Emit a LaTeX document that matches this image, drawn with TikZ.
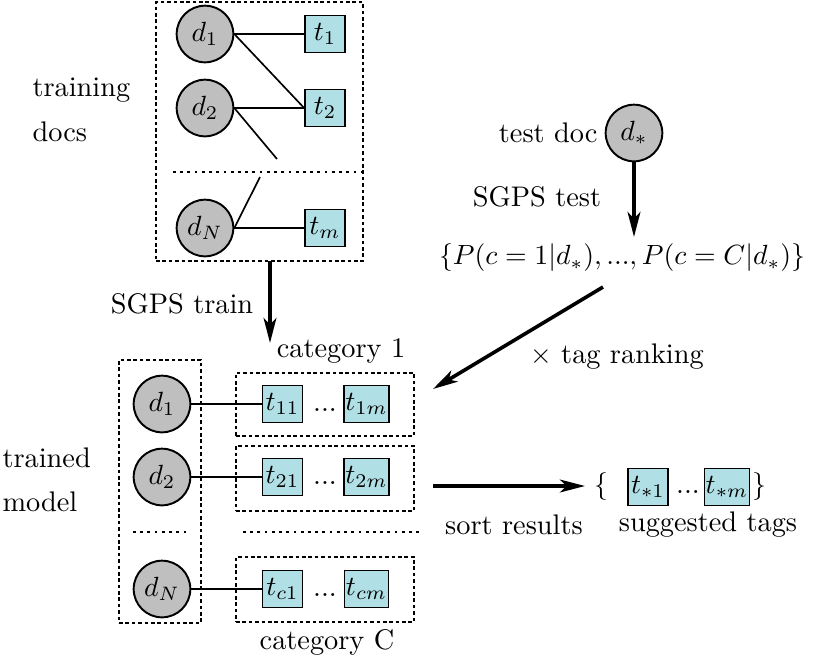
\documentclass[tikz,border=0pt]{standalone}
\usetikzlibrary{arrows.meta}
\definecolor{tagfill}{RGB}{176,224,230}
\begin{document}
\begin{tikzpicture}[x=0.36pt,y=-0.36pt,
 font=\fontsize{10.2pt}{12.2pt}\selectfont,
 doc/.style={circle,draw,line width=0.7pt,fill=gray!50,minimum size=20.4pt,inner sep=0pt},
 tag/.style={rectangle,draw,line width=0.6pt,fill=tagfill,minimum width=14.4pt,minimum height=13.3pt,inner sep=0.5pt},
 grp/.style={rectangle,draw,line width=0.7pt,dash pattern=on 1.3pt off 1pt,inner sep=0pt},
 sep/.style={line width=1pt,dash pattern=on 1pt off 1.6pt},
 link/.style={line width=0.6pt},
 flow/.style={line width=1.3pt,-{Stealth[length=9pt,width=4.6pt,inset=2.4pt]}},
 lbl/.style={inner sep=0pt}]
\useasboundingbox (0,0) rectangle (813,658);

% ---------- top: training docs ----------
\node[grp,minimum width=74.5pt,minimum height=93.2pt] (topbox) at (259.5,131.5) {};
\node[doc] (a1) at (205,34) {$d_1$};
\node[doc] (a2) at (205,108) {$d_2$};
\node[doc] (aN) at (205,228) {$d_N$};
\node[tag] (b1) at (325,34) {$t_1$};
\node[tag] (b2) at (325,108) {$t_2$};
\node[tag] (bm) at (325,228) {$t_m$};
\coordinate (s1a) at (173,172);
\coordinate (s1b) at (363,172);
\draw[sep] (s1a) -- (s1b);
\coordinate (c2) at (277,159);
\coordinate (cN) at (260,177);
\draw[link] (a1) -- (b1);
\draw[link] (a1.east) -- (b2.west);
\draw[link] (a2) -- (b2);
\draw[link] (a2.east) -- (c2);
\draw[link] (cN) -- (aN.east);
\draw[link] (aN) -- (bm);
\node[lbl,anchor=west] (tr1) at (32,90) {training};
\node[lbl,anchor=west] (tr2) at (32,132) {docs};

% ---------- train arrow ----------
\coordinate (trs) at (270,261);
\coordinate (tre) at (270,343);
\draw[flow] (trs) -- (tre);
\node (sgtr) at (182,304) {SGPS train};

% ---------- bottom: trained model ----------
\node[grp,minimum width=29.5pt,minimum height=94.7pt] (lbox) at (160,491.5) {};
\node[grp,minimum width=64.1pt,minimum height=22.9pt] (k1) at (325,404.5) {};
\node[grp,minimum width=64.1pt,minimum height=23.5pt] (k2) at (325,478.5) {};
\node[grp,minimum width=64.1pt,minimum height=23.4pt] (kC) at (325,589.5) {};
\node[doc] (e1) at (162,404) {$d_1$};
\node[doc] (e2) at (162,477) {$d_2$};
\node[doc] (eN) at (162,589) {$d_N$};
\node[tag] (f11) at (282.5,404) {$t_{11}$};
\node[tag] (f1m) at (366.5,404) {$t_{1m}$};
\node (g1) at (325,410) {...};
\node[tag] (f21) at (282.5,477) {$t_{21}$};
\node[tag] (f2m) at (366.5,477) {$t_{2m}$};
\node (g2) at (325,483) {...};
\node[tag] (fc1) at (282.5,589) {$t_{c1}$};
\node[tag] (fcm) at (366.5,589) {$t_{cm}$};
\node (gC) at (325,595) {...};
\draw[link] (e1) -- (f11);
\draw[link] (e2) -- (f21);
\draw[link] (eN) -- (fc1);
\coordinate (s2a) at (133,532);
\coordinate (s2b) at (190,532);
\coordinate (s3a) at (243,532);
\coordinate (s3b) at (423,532);
\draw[sep] (s2a) -- (s2b);
\draw[sep] (s3a) -- (s3b);
\node (cat1) at (341,351) {category 1};
\node (catC) at (327,642) {category C};
\node[lbl,anchor=west] (tm1) at (2,458) {trained};
\node[lbl,anchor=west] (tm2) at (2,502) {model};

% ---------- right: test ----------
\node[doc] (ds) at (634,133) {$d_*$};
\node[lbl,anchor=east] (td) at (598,133) {test doc};
\coordinate (dse) at (634,237);
\draw[flow] (ds) -- (dse);
\node (sgte) at (537,197) {SGPS test};
\node (form) at (622,258) {$\{P(c=1|d_*),...,P(c=C|d_*)\}$};
\coordinate (rk1) at (603,287);
\coordinate (rk2) at (433,389);
\draw[flow] (rk1) -- (rk2);
\node (rank) at (617,357) {$\times$ tag ranking};

% ---------- sort results ----------
\coordinate (so1) at (433,486);
\coordinate (so2) at (585,486);
\draw[flow] (so1) -- (so2);
\node (lb) at (601,487) {$\{$};
\node[tag] (h1) at (648,487) {$t_{*1}$};
\node (hd) at (688,492) {...};
\node[tag] (hm) at (727,487) {$t_{*m}$};
\node (rb) at (759,487) {$\}$};
\node (sr) at (514,525) {sort results};
\node (sug) at (708,525) {suggested tags};
\end{tikzpicture}
\end{document}
